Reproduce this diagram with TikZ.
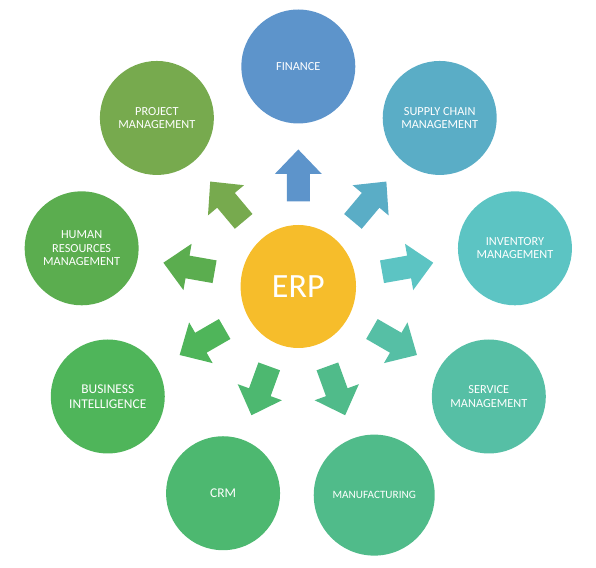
\documentclass[tikz,border=0pt]{standalone}
\usepackage{fontspec}
\setmainfont{Carlito}
\usetikzlibrary{shapes.geometric,calc}
\definecolor{cerp}{HTML}{F6BD2B}
\definecolor{cfin}{HTML}{5D94CB}
\definecolor{csup}{HTML}{5AADC6}
\definecolor{cinv}{HTML}{5CC4C3}
\definecolor{cser}{HTML}{56BFA5}
\definecolor{cman}{HTML}{50BB8A}
\definecolor{ccrm}{HTML}{4DB870}
\definecolor{cbi}{HTML}{4FB55A}
\definecolor{chr}{HTML}{5BAD4F}
\definecolor{cpro}{HTML}{77AA4E}
\newcommand\erpblockarrow[2]{%
  \fill[#2, shift={(c)}, rotate=#1]
    (85,-11.5) -- (112.5,-11.5) -- (112.5,-23.5) -- (137,0) --
    (112.5,23.5) -- (112.5,11.5) -- (85,11.5) -- cycle;}
\begin{document}
\begin{tikzpicture}[x=1pt,y=1pt,
  module/.style={circle, minimum size=114pt, inner sep=0pt, text=white,
    align=center, font=\fontsize{12.3}{13.3}\selectfont}]
\useasboundingbox (0,0) rectangle (596,567);
\coordinate (c) at (298.3,280.5);
\node[ellipse, fill=cerp, minimum width=115.4pt, minimum height=123pt,
  inner sep=0pt, text=white, font=\fontsize{34}{34}\selectfont] (erp) at (c) {ERP};
% modules
\node[module, fill=cfin] (fin) at ($(c)+(90:220)$) {FINANCE};
\node[module, fill=csup] (sup) at ($(c)+(50:220)$) {SUPPLY CHAIN\\MANAGEMENT};
\node[module, fill=cinv] (inv) at ($(c)+(10:220)$) {INVENTORY\\MANAGEMENT};
\node[module, fill=cser] (ser) at ($(c)+(-30:220)$) {SERVICE\\MANAGEMENT};
\node[module, fill=cman, minimum size=121pt, font=\fontsize{11.2}{12.5}\selectfont] (man) at ($(c)+(-70:222)$) {MANUFACTURING};
\node[module, fill=ccrm, font=\fontsize{13.4}{15}\selectfont] (crm) at ($(c)+(-110:220)$) {CRM};
\node[module, fill=cbi, font=\fontsize{13.4}{15.5}\selectfont] (bi) at ($(c)+(-150:220)$) {BUSINESS\\INTELLIGENCE};
\node[module, fill=chr] (hr) at ($(c)+(170:220)$) {HUMAN\\RESOURCES\\MANAGEMENT};
\node[module, fill=cpro] (pro) at ($(c)+(130:220)$) {PROJECT\\MANAGEMENT};
% block arrows
\erpblockarrow{90}{cfin}
\erpblockarrow{50}{csup}
\erpblockarrow{10}{cinv}
\erpblockarrow{-30}{cser}
\erpblockarrow{-70}{cman}
\erpblockarrow{-110}{ccrm}
\erpblockarrow{-150}{cbi}
\erpblockarrow{170}{chr}
\erpblockarrow{130}{cpro}
\end{tikzpicture}
\end{document}
